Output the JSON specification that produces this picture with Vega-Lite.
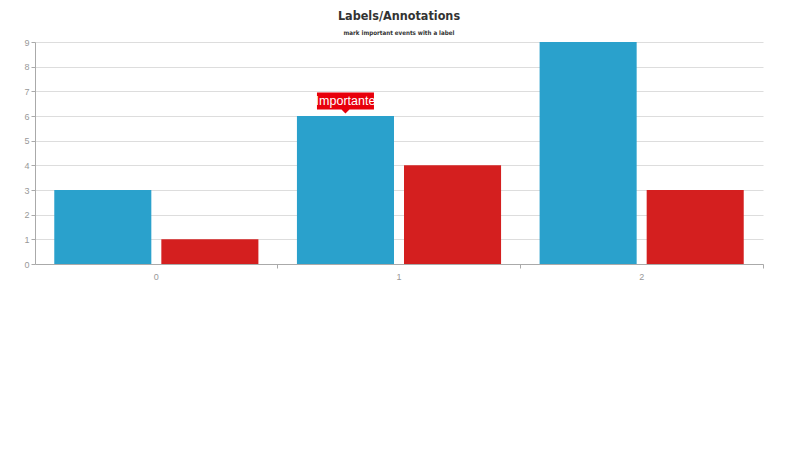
{
  "$schema": "https://vega.github.io/schema/vega-lite/v6.json",
  "autosize": {"type": "none"},
  "width": 728,
  "height": 222,
  "padding": {"left": 35, "top": 42, "right": 37, "bottom": 186},
  "background": "white",
  "title": {
    "text": "Labels/Annotations",
    "subtitle": "mark important events with a label",
    "anchor": "middle",
    "font": "DejaVu Sans Condensed, Roboto, sans-serif",
    "fontSize": 12.5,
    "fontWeight": "bold",
    "color": "#333333",
    "subtitleFont": "DejaVu Sans Condensed, Roboto, sans-serif",
    "subtitleFontSize": 6.2,
    "subtitleFontWeight": "bold",
    "subtitleColor": "#333333",
    "subtitlePadding": 7,
    "offset": 2
  },
  "config": {
    "view": {"stroke": null},
    "axis": {
      "labelFont": "Liberation Sans",
      "labelFontSize": 9,
      "labelColor": "#999999",
      "domainColor": "#aaaaaa",
      "tickColor": "#aaaaaa",
      "gridColor": "#dddddd",
      "title": null
    }
  },
  "encoding": {
    "x": {
      "field": "cat", "type": "nominal",
      "scale": {"paddingInner": 0, "paddingOuter": 0},
      "axis": {"labelAngle": 0, "bandPosition": 1, "tickSize": 4, "grid": false, "labelPadding": 4}
    },
    "xOffset": {
      "field": "series", "type": "nominal",
      "scale": {"paddingInner": 0.0935, "paddingOuter": 0.18}
    },
    "y": {
      "field": "value", "type": "quantitative",
      "scale": {"domain": [0, 9], "nice": false},
      "axis": {"values": [0,1,2,3,4,5,6,7,8,9], "labelOverlap": false, "tickSize": 4, "labelPadding": 2, "grid": true}
    }
  },
  "layer": [
    {
      "data": {
        "values": [
          {"cat": "0", "series": "a", "value": 3},
          {"cat": "0", "series": "b", "value": 1},
          {"cat": "1", "series": "a", "value": 6},
          {"cat": "1", "series": "b", "value": 4},
          {"cat": "2", "series": "a", "value": 9},
          {"cat": "2", "series": "b", "value": 3}
        ]
      },
      "mark": {"type": "bar"},
      "encoding": {
        "color": {
          "field": "series", "type": "nominal",
          "scale": {"domain": ["a", "b"], "range": ["#2aa1cc", "#d41f1f"]},
          "legend": null
        }
      }
    },
    {
      "data": {"values": [{"cat": "1", "series": "a", "value": 6, "label": "Importante"}]},
      "mark": {
        "type": "point",
        "shape": "M-1,-0.3L1,-0.3L1,0.3L0.14,0.3L0,0.44L-0.14,0.3L-1,0.3Z",
        "size": 3249,
        "filled": true,
        "color": "#e8000b",
        "opacity": 1,
        "yOffset": -15
      },
      "encoding": {}
    },
    {
      "data": {"values": [{"cat": "1", "series": "a", "value": 6, "label": "Importante"}]},
      "mark": {
        "type": "text",
        "color": "white",
        "font": "Liberation Sans",
        "fontSize": 12.5,
        "baseline": "middle",
        "align": "center",
        "yOffset": -15
      },
      "encoding": {
        "text": {"field": "label"}
      }
    }
  ]
}
